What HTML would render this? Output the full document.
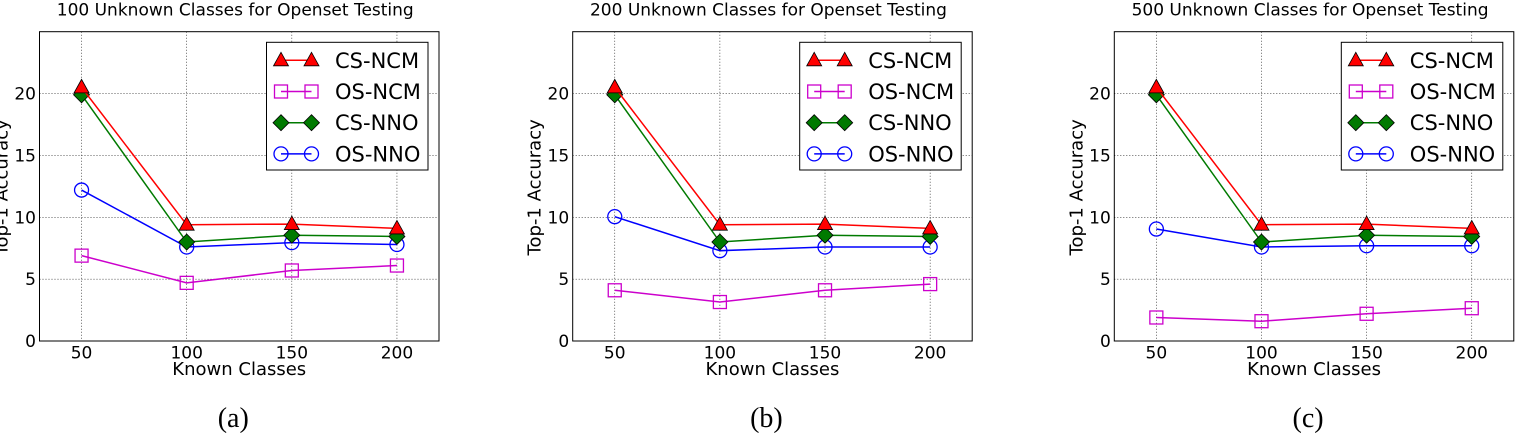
<!DOCTYPE html>
<html><head><meta charset="utf-8">
<style>
body{margin:0;background:#fff;width:1516px;height:433px;overflow:hidden}
svg{display:block}
text{font-family:"DejaVu Sans","Liberation Sans",sans-serif;fill:#000}
</style></head>
<body>
<svg id="chart" width="1516" height="433" viewBox="0 0 1516 433"></svg>
<script>
const categories = [50, 100, 150, 200];
const xTicks = [50, 100, 150, 200];
const yTicks = [0, 5, 10, 15, 20];
const panelTitles = ["100 Unknown Classes for Openset Testing","200 Unknown Classes for Openset Testing","500 Unknown Classes for Openset Testing"];
const panelLetters = ["(a)","(b)","(c)"];
const seriesNames = ["CS-NCM","OS-NCM","CS-NNO","OS-NNO"];
const csNcm = [[20.5,9.4,9.45,9.1],[20.5,9.4,9.45,9.1],[20.5,9.4,9.45,9.1]];
const osNcm = [[6.9,4.7,5.7,6.1],[4.1,3.15,4.1,4.6],[1.9,1.6,2.2,2.65]];
const csNno = [[19.9,8.0,8.55,8.45],[19.9,8.0,8.55,8.45],[19.9,8.0,8.55,8.45]];
const osNno = [[12.2,7.6,7.95,7.8],[10.05,7.3,7.6,7.6],[9.05,7.6,7.7,7.7]];

const NS="http://www.w3.org/2000/svg";
const svgEl=document.getElementById('chart');
function mk(tag,attrs,parent){const e=document.createElementNS(NS,tag);for(const k in attrs)e.setAttribute(k,attrs[k]);(parent||svgEl).appendChild(e);return e;}
const lefts=[39.5,572.7,1114.3];
const plotW=399.5, plotTop=31.7, plotBottom=341;
const styles=[
 {color:'#ff0000',marker:'tri',fill:'#ff0000'},
 {color:'#cc00cc',marker:'sq',fill:'none'},
 {color:'#007a00',marker:'dia',fill:'#007a00'},
 {color:'#0000ff',marker:'circ',fill:'none'}];
function marker(g,type,cx,cy,st,name){
 let e;
 if(type==='tri') e=mk('polygon',{points:`${cx},${cy-8} ${cx-7.5},${cy+5.5} ${cx+7.5},${cy+5.5}`,fill:st.fill,stroke:'#000','stroke-width':0.8},g);
 else if(type==='sq') e=mk('rect',{x:cx-6.5,y:cy-6.5,width:13,height:13,fill:'none',stroke:st.color,'stroke-width':1.3},g);
 else if(type==='dia') e=mk('polygon',{points:`${cx},${cy-8} ${cx+8},${cy} ${cx},${cy+8} ${cx-8},${cy}`,fill:st.fill,stroke:'#000','stroke-width':0.8},g);
 else e=mk('circle',{cx:cx,cy:cy,r:7,fill:'none',stroke:st.color,'stroke-width':1.3},g);
 
 
}
for(let p=0;p<3;p++){
 const L=lefts[p];
 const xs=v=>L+(v-30)/(190)*plotW;
 const ys=v=>plotBottom-(v/25)*(plotBottom-plotTop);
 const g=mk('g',{});
 
 
 const t=mk('text',{x:L+plotW/2-4,y:15.5,'text-anchor':'middle','font-size':17},g);t.textContent=panelTitles[p];
 
 
 xTicks.forEach(v=>{
  const l=mk('line',{x1:xs(v),x2:xs(v),y1:plotTop,y2:plotBottom,stroke:'#000','stroke-width':0.6,'stroke-dasharray':'1,2'},g);
  
  
  const tt=mk('text',{x:xs(v),y:plotBottom+17.5,'text-anchor':'middle','font-size':17},g);tt.textContent=v;
  
  
 });
 yTicks.forEach(v=>{
  if(v>0){const l=mk('line',{x1:L,x2:L+plotW,y1:ys(v),y2:ys(v),stroke:'#000','stroke-width':0.6,'stroke-dasharray':'1,2'},g);
  
  }
  const tt=mk('text',{x:L-3.5,y:ys(v)+6,'text-anchor':'end','font-size':17},g);tt.textContent=v;
  
  
 });
 const fr=mk('rect',{x:L,y:plotTop,width:plotW,height:plotBottom-plotTop,fill:'none',stroke:'#000','stroke-width':1},g);
 
 
 const xl=mk('text',{x:L+plotW/2,y:375,'text-anchor':'middle','font-size':18},g);xl.textContent='Known Classes';
 
 
 const yl=mk('text',{x:0,y:0,'text-anchor':'middle','font-size':18,transform:`translate(${L-32},${(plotTop+plotBottom)/2+1}) rotate(-90)`},g);yl.textContent='Top-1 Accuracy';
 
 
 const all=[csNcm[p],osNcm[p],csNno[p],osNno[p]];
 const order=[1,3,2,0];
 order.forEach(si=>{
  const st=styles[si];const vals=all[si];
  const pl=mk('polyline',{points:vals.map((v,i)=>xs(categories[i])+','+ys(v)).join(' '),fill:'none',stroke:st.color,'stroke-width':1.5},g);
  
  
  vals.forEach((v,i)=>marker(g,st.marker,xs(categories[i]),ys(v),st,'point-'+seriesNames[si].toLowerCase()));
 });
 const lg=mk('g',{},g);
 
 
 mk('rect',{x:L+227,y:42.3,width:161.5,height:127.7,fill:'#fff',stroke:'#000','stroke-width':1},lg);
 seriesNames.forEach((n,i)=>{
  const y=60.3+i*31.2, st=styles[i];
  const e=mk('g',{},lg);
  
  
  mk('line',{x1:L+241.5,x2:L+272,y1:y,y2:y,stroke:st.color,'stroke-width':1.5},e);
  marker(e,st.marker,L+241.5,y,st,'legend-marker');marker(e,st.marker,L+272,y,st,'legend-marker');
  const tx=mk('text',{x:L+295.5,y:y+7.5,'font-size':21},e);tx.textContent=n;
 });
 const lt=mk('text',{x:L+plotW/2-6,y:427,'text-anchor':'middle','font-size':28,style:'font-family:"Liberation Serif",serif'},g);lt.textContent=panelLetters[p];
 
 
}
</script>
</body></html>
